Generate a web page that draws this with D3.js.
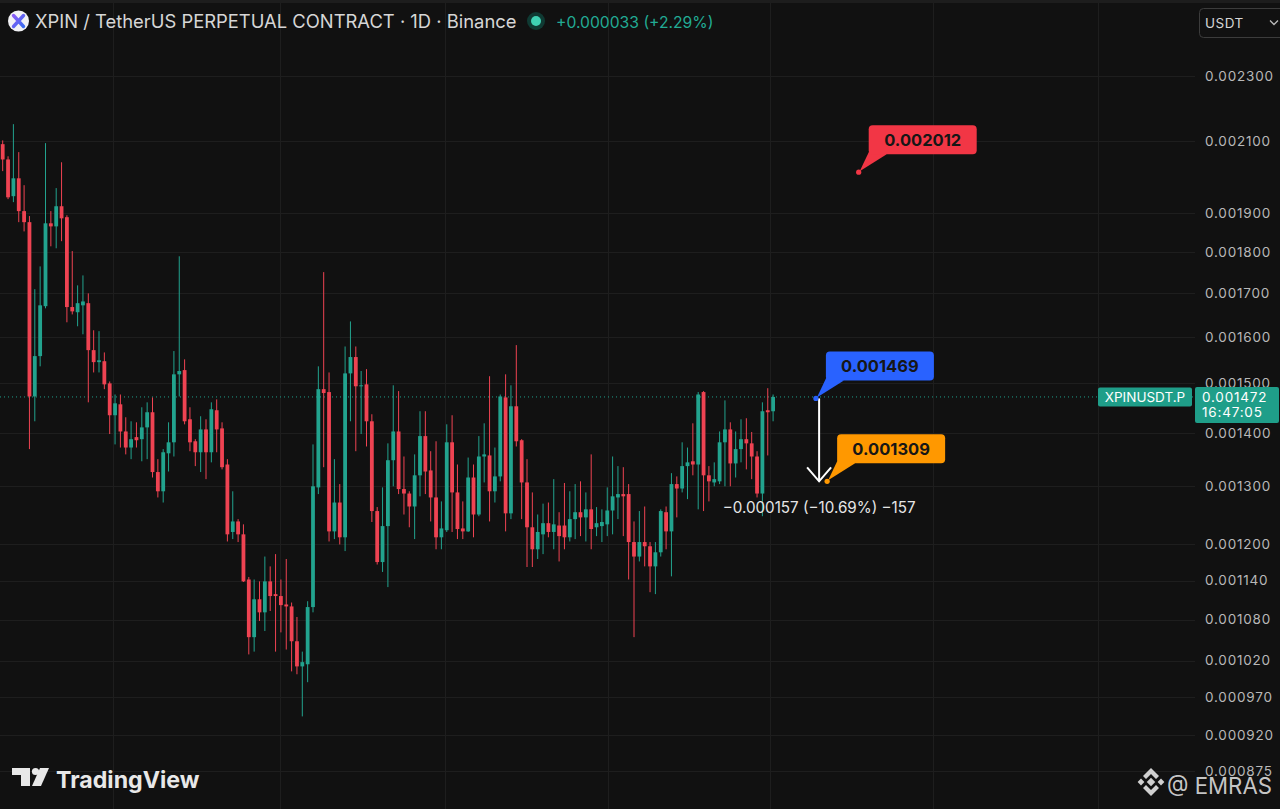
<!DOCTYPE html>
<html><head><meta charset="utf-8">
<script src="https://cdn.jsdelivr.net/npm/d3@7"></script>
<style>
html,body{margin:0;padding:0;background:#111111;overflow:hidden}
svg{display:block}
</style></head><body>
<svg id="c" width="1280" height="809"></svg>
<script>
// ---- DATA (XPINUSDT.P, 1D candles) ----
const openP = [0.002092,0.002048,0.001946,0.001995,0.001906,0.001877,0.001473,0.001558,0.001670,0.001874,
0.001866,0.001919,0.001890,0.001668,0.001656,0.001672,0.001677,0.001571,0.001545,0.001547,
0.001500,0.001435,0.001457,0.001403,0.001372,0.001392,0.001388,0.001411,0.001441,0.001326,
0.001291,0.001361,0.001382,0.001519,0.001528,0.001427,0.001384,0.001363,0.001407,0.001363,
0.001445,0.001409,0.001340,0.001220,0.001238,0.001216,0.001142,0.001054,0.001111,0.001091,
0.001139,0.001119,0.001116,0.001103,0.001100,0.001048,0.001012,0.001015,0.001099,0.001298,
0.001488,0.001482,0.001221,0.001271,0.001211,0.001521,0.001556,0.001494,0.001498,0.001423,
0.001256,0.001170,0.001230,0.001348,0.001403,0.001295,0.001287,0.001264,0.001320,0.001394,
0.001329,0.001280,0.001211,0.001223,0.001382,0.001289,0.001226,0.001221,0.001316,0.001250,
0.001355,0.001357,0.001291,0.001318,0.001471,0.001252,0.001453,0.001386,0.001307,0.001228,
0.001191,0.001216,0.001235,0.001220,0.001231,0.001231,0.001211,0.001242,0.001254,0.001245,
0.001259,0.001228,0.001230,0.001233,0.001257,0.001280,0.001286,0.001286,0.001203,0.001179,
0.001203,0.001196,0.001163,0.001186,0.001254,0.001221,0.001304,0.001296,0.001337,0.001346,
0.001340,0.001482,0.001320,0.001307,0.001309,0.001382,0.001407,0.001342,0.001369,0.001388,
0.001380,0.001355,0.001287,0.001445,0.001443];
const highP = [0.002103,0.002057,0.002151,0.002069,0.001976,0.001893,0.001710,0.001765,0.002095,0.001906,
0.001968,0.002040,0.001895,0.001803,0.001719,0.001743,0.001700,0.001615,0.001613,0.001566,
0.001504,0.001477,0.001477,0.001431,0.001423,0.001421,0.001451,0.001461,0.001471,0.001350,
0.001369,0.001421,0.001569,0.001790,0.001551,0.001451,0.001388,0.001433,0.001427,0.001461,
0.001467,0.001421,0.001350,0.001291,0.001242,0.001233,0.001146,0.001142,0.001139,0.001179,
0.001163,0.001183,0.001142,0.001175,0.001106,0.001084,0.001033,0.001108,0.001378,0.001536,
0.001751,0.001523,0.001350,0.001304,0.001579,0.001635,0.001579,0.001526,0.001530,0.001437,
0.001263,0.001298,0.001380,0.001496,0.001484,0.001355,0.001291,0.001359,0.001443,0.001443,
0.001365,0.001384,0.001273,0.001417,0.001435,0.001340,0.001273,0.001353,0.001340,0.001394,
0.001419,0.001515,0.001372,0.001477,0.001519,0.001496,0.001582,0.001388,0.001350,0.001289,
0.001250,0.001269,0.001271,0.001313,0.001254,0.001306,0.001291,0.001304,0.001309,0.001289,
0.001359,0.001263,0.001259,0.001298,0.001355,0.001337,0.001335,0.001304,0.001238,0.001256,
0.001264,0.001203,0.001203,0.001259,0.001264,0.001324,0.001318,0.001382,0.001372,0.001419,
0.001482,0.001484,0.001337,0.001344,0.001403,0.001465,0.001421,0.001403,0.001427,0.001429,
0.001402,0.001365,0.001461,0.001490,0.001477];
const lowP = [0.002015,0.001938,0.001930,0.001877,0.001853,0.001369,0.001423,0.001536,0.001665,0.001815,
0.001810,0.001828,0.001633,0.001651,0.001624,0.001606,0.001461,0.001523,0.001523,0.001488,
0.001398,0.001378,0.001372,0.001359,0.001350,0.001372,0.001346,0.001350,0.001316,0.001280,
0.001271,0.001327,0.001355,0.001473,0.001417,0.001365,0.001337,0.001326,0.001313,0.001344,
0.001363,0.001331,0.001204,0.001208,0.001203,0.001138,0.001029,0.001033,0.001078,0.001063,
0.001093,0.001033,0.001061,0.001036,0.001005,0.001001,0.000944,0.000990,0.001091,0.001286,
0.001335,0.001204,0.001208,0.001199,0.001188,0.001423,0.001365,0.001398,0.001374,0.001237,
0.001166,0.001154,0.001130,0.001300,0.001286,0.001250,0.001228,0.001208,0.001282,0.001286,
0.001238,0.001191,0.001191,0.001220,0.001220,0.001208,0.001208,0.001220,0.001211,0.001247,
0.001307,0.001238,0.001271,0.001309,0.001221,0.001242,0.001374,0.001242,0.001162,0.001162,
0.001175,0.001183,0.001211,0.001191,0.001171,0.001191,0.001204,0.001208,0.001213,0.001204,
0.001191,0.001213,0.001203,0.001213,0.001216,0.001242,0.001213,0.001142,0.001054,0.001171,
0.001163,0.001122,0.001119,0.001179,0.001191,0.001147,0.001245,0.001289,0.001277,0.001320,
0.001259,0.001256,0.001273,0.001300,0.001304,0.001300,0.001300,0.001316,0.001344,0.001331,
0.001313,0.001280,0.001247,0.001357,0.001423];
const closeP = [0.002048,0.001943,0.001995,0.001906,0.001877,0.001473,0.001558,0.001672,0.001874,0.001866,
0.001919,0.001887,0.001668,0.001658,0.001677,0.001681,0.001571,0.001545,0.001549,0.001498,
0.001435,0.001459,0.001403,0.001372,0.001388,0.001386,0.001411,0.001441,0.001326,0.001291,
0.001363,0.001382,0.001519,0.001526,0.001423,0.001382,0.001363,0.001407,0.001363,0.001447,
0.001407,0.001335,0.001216,0.001238,0.001216,0.001139,0.001054,0.001111,0.001091,0.001139,
0.001116,0.001116,0.001102,0.001100,0.001048,0.001012,0.001018,0.001099,0.001300,0.001488,
0.001480,0.001221,0.001271,0.001211,0.001521,0.001556,0.001494,0.001496,0.001423,0.001256,
0.001170,0.001230,0.001348,0.001403,0.001295,0.001287,0.001264,0.001320,0.001394,0.001327,
0.001280,0.001211,0.001226,0.001382,0.001289,0.001225,0.001221,0.001316,0.001250,0.001355,
0.001359,0.001291,0.001318,0.001473,0.001252,0.001453,0.001384,0.001307,0.001228,0.001191,
0.001220,0.001235,0.001220,0.001233,0.001213,0.001211,0.001242,0.001254,0.001245,0.001259,
0.001225,0.001235,0.001237,0.001257,0.001282,0.001286,0.001282,0.001203,0.001179,0.001203,
0.001196,0.001163,0.001186,0.001256,0.001221,0.001304,0.001296,0.001337,0.001344,0.001340,
0.001477,0.001320,0.001309,0.001313,0.001382,0.001407,0.001342,0.001369,0.001388,0.001380,
0.001355,0.001287,0.001443,0.001441,0.001472];
const priceTicks = [0.0023,0.0021,0.0019,0.0018,0.0017,0.0016,0.0015,0.0014,0.0013,0.0012,0.00114,0.00108,0.00102,0.00097,0.00092,0.000875];
const tickLabels = ["0.002300","0.002100","0.001900","0.001800","0.001700","0.001600","0.001500","0.001400","0.001300","0.001200","0.001140","0.001080","0.001020","0.000970","0.000920","0.000875"];
const timeGridIdx = [20.6, 51.8, 82.7, 113.1, 143.4, 173.9, 204.7];
const lastPrice = 0.001472;
const lastPriceLabel = "0.001472";
const countdown = "16:47:05";
const symbolLabel = "XPINUSDT.P";
const title = "XPIN / TetherUS PERPETUAL CONTRACT · 1D · Binance";
const changeText = "+0.000033 (+2.29%)";
const callouts = [
  {label:"0.002012", value:0.002012, idx:160.0, color:"#f23645"},
  {label:"0.001469", value:0.001469, idx:152.0, color:"#2962ff"},
  {label:"0.001309", value:0.001309, idx:154.1, color:"#ff9800"}
];
const measure = {from:0.001469, to:0.001309, idx:152.6, text:"\u22120.000157 (\u221210.69%) \u2212157"};

// ---- CHART ----
const W = 1280, H = 809, plotRight = 1195;
const UP = "#22a38e", DOWN = "#ef4352", GRID = "#1e1e1e";
const FONT = "Inter, 'Noto Sans', Roboto, sans-serif";
const svg = d3.select("#c");
svg.append("rect").attr("width",W).attr("height",H).attr("fill","#111111");
svg.append("rect").attr("width",W).attr("height",3).attr("fill","#1d1d1d");

const x = d3.scaleLinear().domain([0, openP.length-1]).range([2.7, 773.1]);
const y = d3.scaleLog().domain([0.000875, 0.0023]).range([771, 76]);

// grid
svg.append("g").selectAll("line").data(priceTicks).join("line")
  .attr("x1",0).attr("x2",plotRight).attr("y1",d=>Math.round(y(d))+0.5).attr("y2",d=>Math.round(y(d))+0.5)
  .attr("stroke",GRID).attr("stroke-width",1);
svg.append("g").selectAll("line").data(timeGridIdx).join("line")
  .attr("x1",d=>Math.round(x(d))+0.5).attr("x2",d=>Math.round(x(d))+0.5).attr("y1",3).attr("y2",H)
  .attr("stroke",GRID).attr("stroke-width",1);

// last price dotted line
svg.append("line").attr("x1",0).attr("x2",plotRight).attr("y1",y(lastPrice)).attr("y2",y(lastPrice))
  .attr("stroke","#1f9e89").attr("stroke-width",1).attr("stroke-dasharray","1,3");

// candles
const idx = d3.range(openP.length);
const cg = svg.append("g");
const bodyW = 3.8;
cg.selectAll("line.w").data(idx).join("line").attr("class","w")
  .attr("x1",i=>x(i)).attr("x2",i=>x(i)).attr("y1",i=>y(highP[i])).attr("y2",i=>y(lowP[i]))
  .attr("stroke",i=>closeP[i]>=openP[i]?UP:DOWN).attr("stroke-width",1);
cg.selectAll("rect.b").data(idx).join("rect").attr("class","b")
  .attr("x",i=>x(i)-bodyW/2).attr("width",bodyW)
  .attr("y",i=>y(Math.max(openP[i],closeP[i])))
  .attr("height",i=>Math.max(1, y(Math.min(openP[i],closeP[i])) - y(Math.max(openP[i],closeP[i]))))
  .attr("fill",i=>closeP[i]>=openP[i]?UP:DOWN);

// price axis labels
svg.append("g").selectAll("text").data(priceTicks).join("text")
  .attr("x",1205).attr("y",d=>y(d)).attr("dy","0.35em")
  .attr("fill","#b8b8b8").attr("font-family",FONT).attr("font-size",13.5).attr("letter-spacing",0.8)
  .text((d,i)=>tickLabels[i]);

// measure arrow
const mx = x(measure.idx), my1 = y(measure.from), my2 = y(measure.to);
svg.append("line").attr("x1",mx).attr("x2",mx).attr("y1",my1).attr("y2",my2).attr("stroke","#ffffff").attr("stroke-width",2);
svg.append("path").attr("d",`M${mx-12},${my2-14}L${mx},${my2}L${mx+12},${my2-14}`).attr("fill","none").attr("stroke","#ffffff").attr("stroke-width",2);
svg.append("text").attr("x",mx).attr("y",my2+32).attr("text-anchor","middle")
  .attr("fill","#e6e6e6").attr("font-family",FONT).attr("font-size",15.2).text(measure.text);

// callouts
callouts.forEach(c=>{
  const ax = x(c.idx), ay = y(c.value);
  const bl = ax+10, bt = ay-47, bw = 108, bh = 29;
  const g = svg.append("g");
  g.append("path").attr("d",`M${ax+1},${ay-1}L${bl+1},${bt+bh-4}L${bl+18},${bt+bh}Z`).attr("fill",c.color);
  g.append("rect").attr("x",bl).attr("y",bt).attr("width",bw).attr("height",bh).attr("rx",4).attr("fill",c.color);
  g.append("circle").attr("cx",ax).attr("cy",ay).attr("r",2.6).attr("fill",c.color);
  g.append("text").attr("x",bl+bw/2).attr("y",bt+bh/2).attr("dy","0.36em").attr("text-anchor","middle")
    .attr("fill","#161616").attr("font-family",FONT).attr("font-weight",700).attr("font-size",16.5).text(c.label);
});

// current price labels
const ly = y(lastPrice);
svg.append("rect").attr("x",1098).attr("y",ly-9.5).attr("width",94).attr("height",19).attr("rx",2).attr("fill","#1f9e89");
svg.append("text").attr("x",1145).attr("y",ly).attr("dy","0.36em").attr("text-anchor","middle")
  .attr("fill","#ffffff").attr("font-family",FONT).attr("font-size",13.5).text(symbolLabel);
svg.append("rect").attr("x",1195).attr("y",ly-10).attr("width",84).attr("height",36).attr("rx",2).attr("fill","#1f9e89");
svg.append("text").attr("x",1202).attr("y",ly).attr("dy","0.36em")
  .attr("fill","#ffffff").attr("font-family",FONT).attr("font-size",13.5).attr("letter-spacing",0.8).text(lastPriceLabel);
svg.append("text").attr("x",1202).attr("y",ly+15).attr("dy","0.36em")
  .attr("fill","#ffffff").attr("font-family",FONT).attr("font-size",13.5).attr("letter-spacing",0.8).text(countdown);

// header
const defs = svg.append("defs");
const lg = defs.append("linearGradient").attr("id","xg").attr("x1","0").attr("y1","0").attr("x2","1").attr("y2","1");
lg.append("stop").attr("offset","0%").attr("stop-color","#8a5cf6");
lg.append("stop").attr("offset","100%").attr("stop-color","#3b6cf0");
svg.append("circle").attr("cx",18.5).attr("cy",21).attr("r",10.5).attr("fill","#f2f2f5");
svg.append("path").attr("d","M13.5,15.5L23.5,26.5M23.5,15.5L13.5,26.5").attr("stroke","url(#xg)").attr("stroke-width",3.4).attr("stroke-linecap","round");
svg.append("text").attr("x",35).attr("y",28).attr("fill","#d6d6d6").attr("font-family",FONT).attr("font-size",18.4).text(title);
svg.append("circle").attr("cx",536).attr("cy",21).attr("r",9).attr("fill","#0f3a33");
svg.append("circle").attr("cx",536).attr("cy",21).attr("r",5).attr("fill","#3fd1b3");
svg.append("text").attr("x",556).attr("y",27.5).attr("fill","#22ab94").attr("font-family",FONT).attr("font-size",15.7).text(changeText);

// USDT selector
svg.append("rect").attr("x",1199.5).attr("y",8.5).attr("width",90).attr("height",29).attr("rx",4).attr("fill","none").attr("stroke","#3c3c3c");
svg.append("text").attr("x",1205).attr("y",23).attr("dy","0.36em").attr("fill","#d6d6d6").attr("font-family",FONT).attr("font-size",13.5).attr("letter-spacing",0.5).text("USDT");
svg.append("path").attr("d","M1270,20.5L1274,24.5L1278,20.5").attr("fill","none").attr("stroke","#bbbbbb").attr("stroke-width",1.3);

// TradingView logo
const tv = svg.append("g").attr("fill","#e8e8e8");
tv.append("path").attr("d","M12,768H30V786H21V775H12Z");
tv.append("circle").attr("cx",35.5).attr("cy",771.5).attr("r",3.6);
tv.append("path").attr("d","M40,768H49L41,786H32Z");
svg.append("text").attr("x",56).attr("y",787.5).attr("fill","#e8e8e8").attr("font-family",FONT).attr("font-weight",700).attr("font-size",23.2).text("TradingView");

// Watermark
const bn = svg.append("g").attr("fill","#d0d0d0").attr("transform","translate(1151,782)");
bn.append("rect").attr("x",-3).attr("y",-3).attr("width",6).attr("height",6).attr("transform","rotate(45)");
bn.append("rect").attr("x",-2.4).attr("y",-2.4).attr("width",4.8).attr("height",4.8).attr("transform","translate(-10,0) rotate(45)");
bn.append("rect").attr("x",-2.4).attr("y",-2.4).attr("width",4.8).attr("height",4.8).attr("transform","translate(10,0) rotate(45)");
bn.append("path").attr("d","M0,-14L8,-6L5,-3L0,-8L-5,-3L-8,-6Z");
bn.append("path").attr("d","M0,14L8,6L5,3L0,8L-5,3L-8,6Z");
svg.append("text").attr("x",1167).attr("y",794).attr("fill","#d8d8d8").attr("fill-opacity",0.92).attr("font-family",FONT).attr("font-size",23)
  .attr("textLength",105).attr("lengthAdjust","spacingAndGlyphs").text("@ EMRAS");
</script>
</body></html>
